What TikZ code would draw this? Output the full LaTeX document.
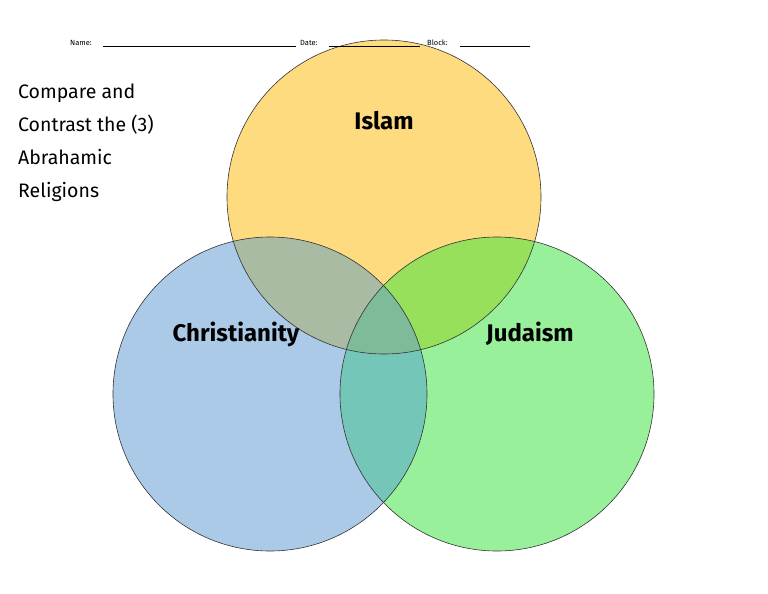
\documentclass[tikz,border=0pt]{standalone}
\usepackage{fontspec}
\setmainfont{Fira Sans}
\begin{document}
\begin{tikzpicture}[x=1pt,y=-1pt,
  circ/.style={draw=black!80,line width=0.6pt},
  lbl/.style={font=\fontsize{24}{28}\selectfont\bfseries},
  hdr/.style={font=\fontsize{7.5}{9}\selectfont,anchor=base west,inner sep=0}]
\useasboundingbox (0,0) rectangle (768,594);
\fill[white] (0,0) rectangle (768,594);
\def\rr{157}
\coordinate (I) at (384,197);
\coordinate (C) at (270,394);
\coordinate (J) at (497,394);
\fill[fill={rgb,255:red,255;green,219;blue,128}] (I) circle (\rr);
\fill[fill={rgb,255:red,171;green,202;blue,232}] (C) circle (\rr);
\fill[fill={rgb,255:red,152;green,240;blue,155}] (J) circle (\rr);
\begin{scope}\clip (I) circle (\rr);
 \fill[fill={rgb,255:red,170;green,187;blue,164}] (C) circle (\rr);
 \fill[fill={rgb,255:red,150;green,224;blue,92}] (J) circle (\rr);
\end{scope}
\begin{scope}\clip (C) circle (\rr);
 \fill[fill={rgb,255:red,116;green,198;blue,184}] (J) circle (\rr);
 \clip (J) circle (\rr);
 \fill[fill={rgb,255:red,126;green,187;blue,152}] (I) circle (\rr);
\end{scope}
\node[circ,circle,minimum size=314pt,inner sep=0] (ci) at (I) {};
\node[circ,circle,minimum size=314pt,inner sep=0] (cc) at (C) {};
\node[circ,circle,minimum size=314pt,inner sep=0] (cj) at (J) {};
\node[lbl] (li) at (384,121) {Islam};
\node[lbl] (lc) at (236,334) {Christianity};
\node[lbl] (lj) at (530,334) {Judaism};
\node[hdr] (hn) at (70,46) {Name:};
\draw[line width=0.4pt] (103,46) -- (296,46);
\node[hdr] (hd) at (300,46) {Date:};
\draw[line width=0.4pt] (329,46) -- (420,46);
\node[hdr] (hb) at (427,46) {Block:};
\draw[line width=0.4pt] (460,46) -- (530,46);
\node[anchor=north west,align=left,inner sep=0,font=\fontsize{19.5}{33}\selectfont] (t) at (18,84)
 {Compare and\\Contrast the (3)\\Abrahamic\\Religions};
\end{tikzpicture}
\end{document}
